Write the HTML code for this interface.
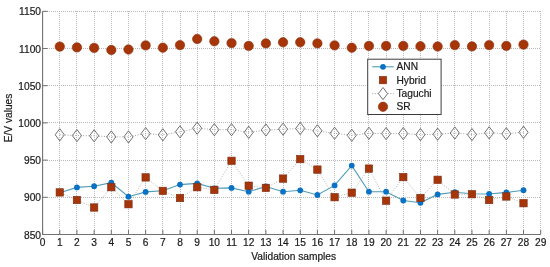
<!DOCTYPE html><html><head><meta charset="utf-8"><title>chart</title><style>html,body{margin:0;padding:0;background:#fff}svg{display:block}text{font-family:"Liberation Sans",Arial,sans-serif;font-size:10.2px;fill:#1a1a1a;stroke:#1a1a1a;stroke-width:0.2px}</style></head><body>
<svg width="550" height="267" viewBox="0 0 550 267">
<rect width="550" height="267" fill="#fff"/>
<path d="M59.5 11V234.5M76.5 11V234.5M94.5 11V234.5M111.5 11V234.5M128.5 11V234.5M145.5 11V234.5M162.5 11V234.5M180.5 11V234.5M197.5 11V234.5M214.5 11V234.5M231.5 11V234.5M248.5 11V234.5M265.5 11V234.5M283.5 11V234.5M300.5 11V234.5M317.5 11V234.5M334.5 11V234.5M351.5 11V234.5M368.5 11V234.5M386.5 11V234.5M403.5 11V234.5M420.5 11V234.5M437.5 11V234.5M454.5 11V234.5M471.5 11V234.5M489.5 11V234.5M506.5 11V234.5M523.5 11V234.5M540.5 11V234.5M43 11.5H540.6M43 48.5H540.6M43 85.5H540.6M43 122.5H540.6M43 160.5H540.6M43 197.5H540.6" stroke="#b9b9b9" stroke-width="1" stroke-dasharray="1 1" fill="none"/>
<path d="M42.6 11.3V234.5H540.6" stroke="#727272" stroke-width="1.1" fill="none"/>
<path d="M42.60 234.5v-4.5M59.78 234.5v-4.5M76.95 234.5v-4.5M94.12 234.5v-4.5M111.30 234.5v-4.5M128.47 234.5v-4.5M145.65 234.5v-4.5M162.83 234.5v-4.5M180.00 234.5v-4.5M197.18 234.5v-4.5M214.35 234.5v-4.5M231.53 234.5v-4.5M248.70 234.5v-4.5M265.88 234.5v-4.5M283.05 234.5v-4.5M300.23 234.5v-4.5M317.40 234.5v-4.5M334.58 234.5v-4.5M351.75 234.5v-4.5M368.93 234.5v-4.5M386.10 234.5v-4.5M403.28 234.5v-4.5M420.45 234.5v-4.5M437.63 234.5v-4.5M454.80 234.5v-4.5M471.98 234.5v-4.5M489.15 234.5v-4.5M506.33 234.5v-4.5M523.50 234.5v-4.5M540.68 234.5v-4.5M42.6 11.30h5M42.6 48.50h5M42.6 85.70h5M42.6 122.90h5M42.6 160.10h5M42.6 197.30h5M42.6 234.50h5" stroke="#727272" stroke-width="1" fill="none"/>
<text x="42.60" y="246.1" text-anchor="middle">0</text>
<text x="59.78" y="246.1" text-anchor="middle">1</text>
<text x="76.95" y="246.1" text-anchor="middle">2</text>
<text x="94.12" y="246.1" text-anchor="middle">3</text>
<text x="111.30" y="246.1" text-anchor="middle">4</text>
<text x="128.47" y="246.1" text-anchor="middle">5</text>
<text x="145.65" y="246.1" text-anchor="middle">6</text>
<text x="162.83" y="246.1" text-anchor="middle">7</text>
<text x="180.00" y="246.1" text-anchor="middle">8</text>
<text x="197.18" y="246.1" text-anchor="middle">9</text>
<text x="214.35" y="246.1" text-anchor="middle">10</text>
<text x="231.53" y="246.1" text-anchor="middle">11</text>
<text x="248.70" y="246.1" text-anchor="middle">12</text>
<text x="265.88" y="246.1" text-anchor="middle">13</text>
<text x="283.05" y="246.1" text-anchor="middle">14</text>
<text x="300.23" y="246.1" text-anchor="middle">15</text>
<text x="317.40" y="246.1" text-anchor="middle">16</text>
<text x="334.58" y="246.1" text-anchor="middle">17</text>
<text x="351.75" y="246.1" text-anchor="middle">18</text>
<text x="368.93" y="246.1" text-anchor="middle">19</text>
<text x="386.10" y="246.1" text-anchor="middle">20</text>
<text x="403.28" y="246.1" text-anchor="middle">21</text>
<text x="420.45" y="246.1" text-anchor="middle">22</text>
<text x="437.63" y="246.1" text-anchor="middle">23</text>
<text x="454.80" y="246.1" text-anchor="middle">24</text>
<text x="471.98" y="246.1" text-anchor="middle">25</text>
<text x="489.15" y="246.1" text-anchor="middle">26</text>
<text x="506.33" y="246.1" text-anchor="middle">27</text>
<text x="523.50" y="246.1" text-anchor="middle">28</text>
<text x="540.68" y="246.1" text-anchor="middle">29</text>
<text x="41.0" y="15.40" text-anchor="end">1150</text>
<text x="41.0" y="52.60" text-anchor="end">1100</text>
<text x="41.0" y="89.80" text-anchor="end">1050</text>
<text x="41.0" y="127.00" text-anchor="end">1000</text>
<text x="41.0" y="164.20" text-anchor="end">950</text>
<text x="41.0" y="201.40" text-anchor="end">900</text>
<text x="41.0" y="238.60" text-anchor="end">850</text>
<text x="293.7" y="260.4" text-anchor="middle">Validation samples</text>
<text transform="translate(11.9 118) rotate(-90)" text-anchor="middle">E/V values</text>
<polyline points="59.78,192.8 76.95,187.4 94.12,186.20000000000002 111.30,182.70000000000002 128.47,196.70000000000002 145.65,191.9 162.83,190.8 180.00,184.60000000000002 197.18,183.4 214.35,188.3 231.53,187.9 248.70,191.70000000000002 265.88,186.5 283.05,191.70000000000002 300.23,190.3 317.40,195.0 334.58,185.4 351.75,165.60000000000002 368.93,191.70000000000002 386.10,191.70000000000002 403.28,200.5 420.45,202.8 437.63,194.4 454.80,192.20000000000002 471.98,193.8 489.15,194.0 506.33,192.4 523.50,190.20000000000002" fill="none" stroke="#4f9bb6" stroke-width="1.1"/>
<circle cx="59.78" cy="192.8" r="2.9" fill="#0a72c4"/>
<circle cx="76.95" cy="187.4" r="2.9" fill="#0a72c4"/>
<circle cx="94.12" cy="186.20000000000002" r="2.9" fill="#0a72c4"/>
<circle cx="111.30" cy="182.70000000000002" r="2.9" fill="#0a72c4"/>
<circle cx="128.47" cy="196.70000000000002" r="2.9" fill="#0a72c4"/>
<circle cx="145.65" cy="191.9" r="2.9" fill="#0a72c4"/>
<circle cx="162.83" cy="190.8" r="2.9" fill="#0a72c4"/>
<circle cx="180.00" cy="184.60000000000002" r="2.9" fill="#0a72c4"/>
<circle cx="197.18" cy="183.4" r="2.9" fill="#0a72c4"/>
<circle cx="214.35" cy="188.3" r="2.9" fill="#0a72c4"/>
<circle cx="231.53" cy="187.9" r="2.9" fill="#0a72c4"/>
<circle cx="248.70" cy="191.70000000000002" r="2.9" fill="#0a72c4"/>
<circle cx="265.88" cy="186.5" r="2.9" fill="#0a72c4"/>
<circle cx="283.05" cy="191.70000000000002" r="2.9" fill="#0a72c4"/>
<circle cx="300.23" cy="190.3" r="2.9" fill="#0a72c4"/>
<circle cx="317.40" cy="195.0" r="2.9" fill="#0a72c4"/>
<circle cx="334.58" cy="185.4" r="2.9" fill="#0a72c4"/>
<circle cx="351.75" cy="165.60000000000002" r="2.9" fill="#0a72c4"/>
<circle cx="368.93" cy="191.70000000000002" r="2.9" fill="#0a72c4"/>
<circle cx="386.10" cy="191.70000000000002" r="2.9" fill="#0a72c4"/>
<circle cx="403.28" cy="200.5" r="2.9" fill="#0a72c4"/>
<circle cx="420.45" cy="202.8" r="2.9" fill="#0a72c4"/>
<circle cx="437.63" cy="194.4" r="2.9" fill="#0a72c4"/>
<circle cx="454.80" cy="192.20000000000002" r="2.9" fill="#0a72c4"/>
<circle cx="471.98" cy="193.8" r="2.9" fill="#0a72c4"/>
<circle cx="489.15" cy="194.0" r="2.9" fill="#0a72c4"/>
<circle cx="506.33" cy="192.4" r="2.9" fill="#0a72c4"/>
<circle cx="523.50" cy="190.20000000000002" r="2.9" fill="#0a72c4"/>
<polyline points="59.78,192.4 76.95,200.0 94.12,207.5 111.30,187.20000000000002 128.47,204.20000000000002 145.65,177.4 162.83,190.9 180.00,198.0 197.18,187.20000000000002 214.35,189.9 231.53,160.8 248.70,185.70000000000002 265.88,187.9 283.05,178.60000000000002 300.23,159.10000000000002 317.40,169.60000000000002 334.58,197.20000000000002 351.75,192.70000000000002 368.93,168.60000000000002 386.10,200.70000000000002 403.28,177.10000000000002 420.45,198.0 437.63,179.8 454.80,194.5 471.98,194.20000000000002 489.15,200.0 506.33,196.5 523.50,203.20000000000002" fill="none" stroke="#ababab" stroke-width="0.9" stroke-dasharray="1 1.6"/>
<rect x="56.08" y="188.70" width="7.4" height="7.4" fill="#a63608" stroke="#7e2c14" stroke-width="0.6"/>
<rect x="73.25" y="196.30" width="7.4" height="7.4" fill="#a63608" stroke="#7e2c14" stroke-width="0.6"/>
<rect x="90.42" y="203.80" width="7.4" height="7.4" fill="#a63608" stroke="#7e2c14" stroke-width="0.6"/>
<rect x="107.60" y="183.50" width="7.4" height="7.4" fill="#a63608" stroke="#7e2c14" stroke-width="0.6"/>
<rect x="124.77" y="200.50" width="7.4" height="7.4" fill="#a63608" stroke="#7e2c14" stroke-width="0.6"/>
<rect x="141.95" y="173.70" width="7.4" height="7.4" fill="#a63608" stroke="#7e2c14" stroke-width="0.6"/>
<rect x="159.13" y="187.20" width="7.4" height="7.4" fill="#a63608" stroke="#7e2c14" stroke-width="0.6"/>
<rect x="176.30" y="194.30" width="7.4" height="7.4" fill="#a63608" stroke="#7e2c14" stroke-width="0.6"/>
<rect x="193.48" y="183.50" width="7.4" height="7.4" fill="#a63608" stroke="#7e2c14" stroke-width="0.6"/>
<rect x="210.65" y="186.20" width="7.4" height="7.4" fill="#a63608" stroke="#7e2c14" stroke-width="0.6"/>
<rect x="227.83" y="157.10" width="7.4" height="7.4" fill="#a63608" stroke="#7e2c14" stroke-width="0.6"/>
<rect x="245.00" y="182.00" width="7.4" height="7.4" fill="#a63608" stroke="#7e2c14" stroke-width="0.6"/>
<rect x="262.18" y="184.20" width="7.4" height="7.4" fill="#a63608" stroke="#7e2c14" stroke-width="0.6"/>
<rect x="279.35" y="174.90" width="7.4" height="7.4" fill="#a63608" stroke="#7e2c14" stroke-width="0.6"/>
<rect x="296.53" y="155.40" width="7.4" height="7.4" fill="#a63608" stroke="#7e2c14" stroke-width="0.6"/>
<rect x="313.70" y="165.90" width="7.4" height="7.4" fill="#a63608" stroke="#7e2c14" stroke-width="0.6"/>
<rect x="330.88" y="193.50" width="7.4" height="7.4" fill="#a63608" stroke="#7e2c14" stroke-width="0.6"/>
<rect x="348.05" y="189.00" width="7.4" height="7.4" fill="#a63608" stroke="#7e2c14" stroke-width="0.6"/>
<rect x="365.23" y="164.90" width="7.4" height="7.4" fill="#a63608" stroke="#7e2c14" stroke-width="0.6"/>
<rect x="382.40" y="197.00" width="7.4" height="7.4" fill="#a63608" stroke="#7e2c14" stroke-width="0.6"/>
<rect x="399.58" y="173.40" width="7.4" height="7.4" fill="#a63608" stroke="#7e2c14" stroke-width="0.6"/>
<rect x="416.75" y="194.30" width="7.4" height="7.4" fill="#a63608" stroke="#7e2c14" stroke-width="0.6"/>
<rect x="433.93" y="176.10" width="7.4" height="7.4" fill="#a63608" stroke="#7e2c14" stroke-width="0.6"/>
<rect x="451.10" y="190.80" width="7.4" height="7.4" fill="#a63608" stroke="#7e2c14" stroke-width="0.6"/>
<rect x="468.28" y="190.50" width="7.4" height="7.4" fill="#a63608" stroke="#7e2c14" stroke-width="0.6"/>
<rect x="485.45" y="196.30" width="7.4" height="7.4" fill="#a63608" stroke="#7e2c14" stroke-width="0.6"/>
<rect x="502.63" y="192.80" width="7.4" height="7.4" fill="#a63608" stroke="#7e2c14" stroke-width="0.6"/>
<rect x="519.80" y="199.50" width="7.4" height="7.4" fill="#a63608" stroke="#7e2c14" stroke-width="0.6"/>
<polyline points="59.78,134.8 76.95,135.6 94.12,135.8 111.30,136.9 128.47,136.9 145.65,133.6 162.83,134.8 180.00,131.8 197.18,128.2 214.35,129.70000000000002 231.53,129.70000000000002 248.70,132.3 265.88,130.0 283.05,129.20000000000002 300.23,128.5 317.40,130.8 334.58,133.3 351.75,135.3 368.93,133.3 386.10,133.6 403.28,133.6 420.45,134.6 437.63,134.20000000000002 454.80,133.0 471.98,134.6 489.15,132.8 506.33,133.8 523.50,132.3" fill="none" stroke="#9a9a9a" stroke-width="0.9" stroke-dasharray="1 1.6"/>
<path d="M55.18 134.80L59.78 128.70L64.38 134.80L59.78 140.90ZM72.35 135.60L76.95 129.50L81.55 135.60L76.95 141.70ZM89.53 135.80L94.12 129.70L98.72 135.80L94.12 141.90ZM106.70 136.90L111.30 130.80L115.90 136.90L111.30 143.00ZM123.88 136.90L128.47 130.80L133.07 136.90L128.47 143.00ZM141.05 133.60L145.65 127.50L150.25 133.60L145.65 139.70ZM158.23 134.80L162.83 128.70L167.43 134.80L162.83 140.90ZM175.40 131.80L180.00 125.70L184.60 131.80L180.00 137.90ZM192.58 128.20L197.18 122.10L201.78 128.20L197.18 134.30ZM209.75 129.70L214.35 123.60L218.95 129.70L214.35 135.80ZM226.93 129.70L231.53 123.60L236.12 129.70L231.53 135.80ZM244.10 132.30L248.70 126.20L253.30 132.30L248.70 138.40ZM261.27 130.00L265.88 123.90L270.48 130.00L265.88 136.10ZM278.45 129.20L283.05 123.10L287.65 129.20L283.05 135.30ZM295.62 128.50L300.23 122.40L304.83 128.50L300.23 134.60ZM312.80 130.80L317.40 124.70L322.00 130.80L317.40 136.90ZM329.98 133.30L334.58 127.20L339.18 133.30L334.58 139.40ZM347.15 135.30L351.75 129.20L356.35 135.30L351.75 141.40ZM364.32 133.30L368.93 127.20L373.53 133.30L368.93 139.40ZM381.50 133.60L386.10 127.50L390.70 133.60L386.10 139.70ZM398.68 133.60L403.28 127.50L407.88 133.60L403.28 139.70ZM415.85 134.60L420.45 128.50L425.05 134.60L420.45 140.70ZM433.03 134.20L437.63 128.10L442.23 134.20L437.63 140.30ZM450.20 133.00L454.80 126.90L459.40 133.00L454.80 139.10ZM467.38 134.60L471.98 128.50L476.58 134.60L471.98 140.70ZM484.55 132.80L489.15 126.70L493.75 132.80L489.15 138.90ZM501.73 133.80L506.33 127.70L510.93 133.80L506.33 139.90ZM518.90 132.30L523.50 126.20L528.10 132.30L523.50 138.40Z" fill="none" stroke="#636363" stroke-width="0.9"/>
<circle cx="59.78" cy="46.599999999999994" r="4.7" fill="#a63608" stroke="#8a2d12" stroke-width="0.6"/>
<circle cx="76.95" cy="47.4" r="4.7" fill="#a63608" stroke="#8a2d12" stroke-width="0.6"/>
<circle cx="94.12" cy="47.9" r="4.7" fill="#a63608" stroke="#8a2d12" stroke-width="0.6"/>
<circle cx="111.30" cy="50.0" r="4.7" fill="#a63608" stroke="#8a2d12" stroke-width="0.6"/>
<circle cx="128.47" cy="49.5" r="4.7" fill="#a63608" stroke="#8a2d12" stroke-width="0.6"/>
<circle cx="145.65" cy="45.4" r="4.7" fill="#a63608" stroke="#8a2d12" stroke-width="0.6"/>
<circle cx="162.83" cy="47.699999999999996" r="4.7" fill="#a63608" stroke="#8a2d12" stroke-width="0.6"/>
<circle cx="180.00" cy="45.099999999999994" r="4.7" fill="#a63608" stroke="#8a2d12" stroke-width="0.6"/>
<circle cx="197.18" cy="39.0" r="4.7" fill="#a63608" stroke="#8a2d12" stroke-width="0.6"/>
<circle cx="214.35" cy="41.3" r="4.7" fill="#a63608" stroke="#8a2d12" stroke-width="0.6"/>
<circle cx="231.53" cy="43.099999999999994" r="4.7" fill="#a63608" stroke="#8a2d12" stroke-width="0.6"/>
<circle cx="248.70" cy="45.9" r="4.7" fill="#a63608" stroke="#8a2d12" stroke-width="0.6"/>
<circle cx="265.88" cy="43.4" r="4.7" fill="#a63608" stroke="#8a2d12" stroke-width="0.6"/>
<circle cx="283.05" cy="42.3" r="4.7" fill="#a63608" stroke="#8a2d12" stroke-width="0.6"/>
<circle cx="300.23" cy="42.3" r="4.7" fill="#a63608" stroke="#8a2d12" stroke-width="0.6"/>
<circle cx="317.40" cy="43.4" r="4.7" fill="#a63608" stroke="#8a2d12" stroke-width="0.6"/>
<circle cx="334.58" cy="45.4" r="4.7" fill="#a63608" stroke="#8a2d12" stroke-width="0.6"/>
<circle cx="351.75" cy="47.699999999999996" r="4.7" fill="#a63608" stroke="#8a2d12" stroke-width="0.6"/>
<circle cx="368.93" cy="45.9" r="4.7" fill="#a63608" stroke="#8a2d12" stroke-width="0.6"/>
<circle cx="386.10" cy="45.9" r="4.7" fill="#a63608" stroke="#8a2d12" stroke-width="0.6"/>
<circle cx="403.28" cy="45.9" r="4.7" fill="#a63608" stroke="#8a2d12" stroke-width="0.6"/>
<circle cx="420.45" cy="46.3" r="4.7" fill="#a63608" stroke="#8a2d12" stroke-width="0.6"/>
<circle cx="437.63" cy="46.5" r="4.7" fill="#a63608" stroke="#8a2d12" stroke-width="0.6"/>
<circle cx="454.80" cy="45.099999999999994" r="4.7" fill="#a63608" stroke="#8a2d12" stroke-width="0.6"/>
<circle cx="471.98" cy="46.4" r="4.7" fill="#a63608" stroke="#8a2d12" stroke-width="0.6"/>
<circle cx="489.15" cy="45.099999999999994" r="4.7" fill="#a63608" stroke="#8a2d12" stroke-width="0.6"/>
<circle cx="506.33" cy="45.9" r="4.7" fill="#a63608" stroke="#8a2d12" stroke-width="0.6"/>
<circle cx="523.50" cy="44.599999999999994" r="4.7" fill="#a63608" stroke="#8a2d12" stroke-width="0.6"/>
<rect x="367.7" y="59.2" width="73.4" height="55.3" fill="#fff" stroke="#3c3c3c" stroke-width="1"/>
<path d="M372.2 66.8H393.7" stroke="#4f9bb6" stroke-width="1.1"/><circle cx="383" cy="66.8" r="2.9" fill="#0a72c4"/>
<rect x="379.3" y="76.4" width="7.4" height="7.4" fill="#a63608" stroke="#7e2c14" stroke-width="0.6"/>
<path d="M372.2 93.6H393.7" stroke="#9a9a9a" stroke-width="0.9" stroke-dasharray="1 1.6"/>
<path d="M378.40 93.60L383.00 87.50L387.60 93.60L383.00 99.70Z" fill="#fff" stroke="#636363" stroke-width="0.9"/>
<circle cx="383" cy="106.8" r="4.7" fill="#a63608" stroke="#8a2d12" stroke-width="0.6"/>
<text x="396.5" y="70.4">ANN</text>
<text x="396.5" y="83.7">Hybrid</text>
<text x="396.5" y="97.1">Taguchi</text>
<text x="396.5" y="110.4">SR</text>
</svg></body></html>
